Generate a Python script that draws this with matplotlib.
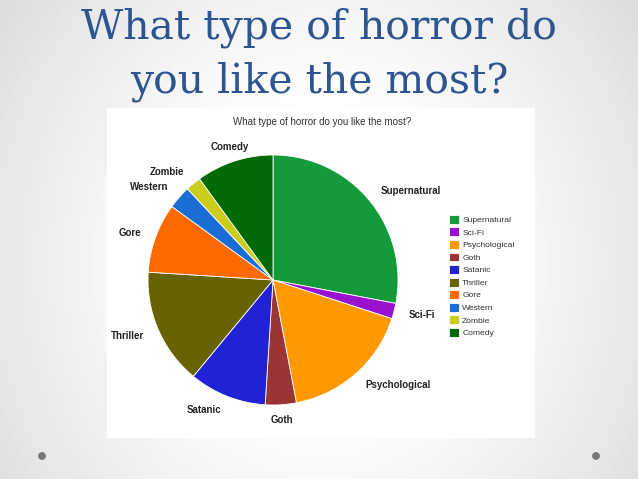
import numpy as np
import matplotlib
matplotlib.use("Agg")
import matplotlib.pyplot as plt
from matplotlib.patches import Rectangle, Circle

# Survey answers (percent of respondents)
genres = ['Supernatural', 'Sci-Fi', 'Psychological', 'Goth', 'Satanic',
          'Thriller', 'Gore', 'Western', 'Zombie', 'Comedy']
shares = [28, 2, 17, 4, 10, 15, 9, 3, 2, 10]
colors = ['#129a3b', '#9a12cf', '#ff9900', '#9b3535', '#2121d6',
          '#666300', '#ff6a00', '#1a6dd4', '#cccc1c', '#006b06']

slide_title = ['What type of horror do', 'you like the most?']
chart_title = 'What type of horror do you like the most?'

W, H = 638, 479
fig = plt.figure(figsize=(W / 100, H / 100), dpi=100)

# slide background: soft radial grey gradient
bg = fig.add_axes([0, 0, 1, 1], zorder=-5)
yy, xx = np.mgrid[0:H, 0:W]
r = np.sqrt(((xx - W / 2) / (W / 2)) ** 2 + ((yy - H * 0.55) / (H * 0.75)) ** 2)
shade = 1.0 - 0.16 * np.clip(r - 0.35, 0, None) ** 1.3
bg.imshow(shade, cmap='gray', vmin=0, vmax=1, extent=[0, W, 0, H],
          aspect='auto', interpolation='bilinear')
bg.set_xlim(0, W)
bg.set_ylim(0, H)
bg.axis('off')

# white chart image
bg.add_patch(Rectangle((107, H - 438), 428, 330, facecolor='white',
                       edgecolor='none', zorder=2))
# footer dots
for dx in (42, 596):
    bg.add_patch(Circle((dx, H - 456), 3.2, color='#777777', zorder=2))

# slide title, two lines on baselines 38 px and 92 px
for line, base in zip(slide_title, (38, 92)):
    fig.text(319 / W, 1 - base / H, line, ha='center', va='baseline',
             fontsize=29.5, color='#2d5591', family='DejaVu Serif')

fig.text(322 / W, 1 - 122 / H, chart_title, ha='center', va='center',
         fontsize=7.0, color='#333333', family='Liberation Sans')

# pie: centre (273, 280) px, radius 125 px
cx, cy, rad = 273, 280, 125
ax = fig.add_axes([(cx - rad) / W, (H - cy - rad) / H, 2 * rad / W, 2 * rad / H])
wedges, texts = ax.pie(shares, labels=genres, colors=colors, startangle=90,
                       counterclock=False, labeldistance=1.12,
                       wedgeprops=dict(edgecolor='white', linewidth=0.6),
                       textprops=dict(fontsize=7.0, fontweight='bold',
                                      color='#222222', family='Liberation Sans'))
for t in texts:
    t.set_clip_on(False)
    # labels near the top / bottom sit centred over their wedge
    if abs(t.get_position()[0]) < 0.4:
        t.set_ha('center')
ax.set_xlim(-1, 1)
ax.set_ylim(-1, 1)
ax.set_aspect('auto')
ax.axis('off')

fig.legend(wedges, genres, loc='center left',
           bbox_to_anchor=(441 / W, 1 - 276 / H), frameon=False,
           prop=dict(size=6.1, family='Liberation Sans'),
           handlelength=1.25, handleheight=1.25, labelspacing=0.38,
           handletextpad=0.35, labelcolor='#333333')

fig.savefig('out.png', dpi=100)
